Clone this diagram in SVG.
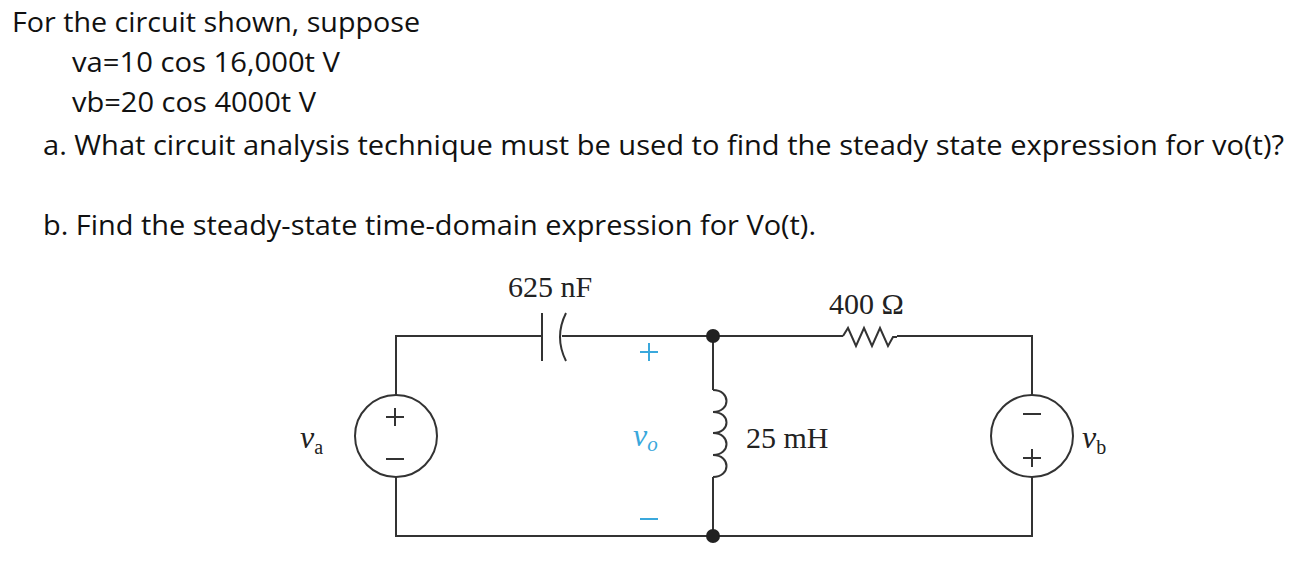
<svg xmlns="http://www.w3.org/2000/svg" width="1309" height="566" viewBox="0 0 1309 566">
<style>
.q{font-family:"Open Sans","Liberation Sans",sans-serif;font-size:28px;fill:#111}
.c{font-family:"Liberation Serif",serif;font-size:30px;fill:#222}
.v{font-family:"Liberation Serif",serif;font-style:italic;font-size:32px}
.w{fill:none;stroke:#333;stroke-width:2}
.b{stroke:#3aa8dc;stroke-width:2}
</style>
<rect width="1309" height="566" fill="#fff"/>
<g id="text">
<text class="q" x="12" y="32" textLength="408" lengthAdjust="spacingAndGlyphs">For the circuit shown, suppose</text>
<text class="q" x="72" y="72" textLength="268" lengthAdjust="spacingAndGlyphs">va=10 cos 16,000t V</text>
<text class="q" x="72" y="112" textLength="244" lengthAdjust="spacingAndGlyphs">vb=20 cos 4000t V</text>
<text class="q" x="43" y="155" textLength="1241" lengthAdjust="spacingAndGlyphs">a. What circuit analysis technique must be used to find the steady state expression for vo(t)?</text>
<text class="q" x="43" y="235" textLength="773" lengthAdjust="spacingAndGlyphs">b. Find the steady-state time-domain expression for Vo(t).</text>
</g>
<g id="connectors">
<path class="w" d="M396 395 V336 H542 M562 336 H843 M897 336 H1032 V395 M1032 477 V536 H396 V477 M713 336 V390 M713 477 V536"/>
</g>
<g id="va"><circle class="w" cx="396" cy="436" r="41"/><path class="w" d="M386 417h18M395 408v18M386 459h18"/><text class="v" x="300" y="448" fill="#222">v<tspan font-size="20" font-style="normal" dy="6">a</tspan></text></g>
<g id="vb"><circle class="w" cx="1032" cy="436" r="41"/><path class="w" d="M1023 414h18M1023 458h18M1032 449v18"/><text class="v" x="1082" y="448" fill="#222">v<tspan font-size="20" font-style="normal" dy="6">b</tspan></text></g>
<g id="cap"><path class="w" d="M542 313v48M566 313q-12 24 0 48"/><text class="c" x="508" y="297">625 nF</text></g>
<g id="res"><path class="w" d="M843 336l5-8 8 18 8-18 8 18 8-18 8 18 5-9 4 0"/><text class="c" x="829" y="314">400 Ω</text></g>
<g id="ind"><path class="w" d="M713 390c18 0 18 22 0 22 18 0 18 21 0 21 18 0 18 22 0 22 18 0 18 22 0 22"/><text class="c" x="746" y="448">25 mH</text></g>
<g id="nodes" fill="#222"><circle cx="713" cy="336" r="7"/><circle cx="713" cy="536" r="7"/></g>
<g id="vo"><path class="b" d="M640 352h18M649 343v18M640 519h18"/><text class="v" x="633" y="446" fill="#3aa8dc">v<tspan font-size="21" dy="5">o</tspan></text></g>
</svg>
